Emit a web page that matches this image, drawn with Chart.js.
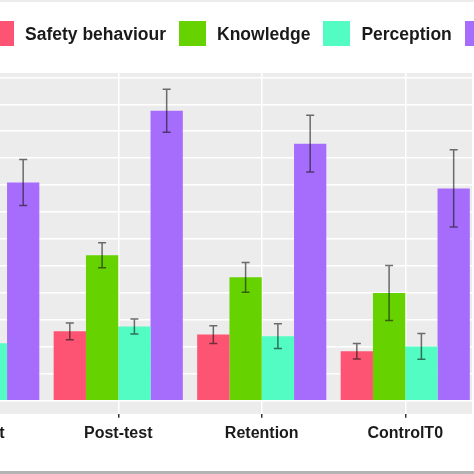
<!DOCTYPE html>
<html>
<head>
<meta charset="utf-8">
<script src="https://cdn.jsdelivr.net/npm/chart.js@4/dist/chart.umd.min.js"></script>
<style>
  html, body { margin: 0; padding: 0; width: 474px; height: 474px; overflow: hidden; background: #fff; }
  #frame { position: absolute; left: 0; top: 0; width: 472px; height: 474px; overflow: hidden; }
  #plot { position: absolute; left: -97px; top: 0; width: 574px; height: 474px; }
  #legend { position: absolute; left: -13px; top: 19px; display: flex; align-items: center; white-space: nowrap;
            font-family: 'Liberation Sans', Arial, sans-serif; font-weight: bold; font-size: 17.5px; color: #1a1a1a; }
  #legend .box { width: 27px; height: 25px; margin-right: 11px; flex: none; }
  #legend .lbl { margin-right: 13px; line-height: 25px; padding-top: 3px; }
  #topline { position: absolute; left: 0; top: 0; width: 474px; height: 2px; background: #ececec; }
  #bottomline { position: absolute; left: 0; top: 471px; width: 474px; height: 3px; background: #b4b4b4; }
</style>
</head>
<body>
<div id="frame"><div id="plot"><canvas id="chart"></canvas></div></div>
<div id="legend"></div>
<div id="topline"></div>
<div id="bottomline"></div>
<script>
// dados (médias e meia-largura das barras de erro)
const categories = ['Pre-test', 'Post-test', 'Retention', 'ControlT0'];
const seriesNames = ['Safety behaviour', 'Knowledge', 'Perception', 'Attitude'];
const seriesColors = ['#fd5473', '#66d300', '#52fcc3', '#a66dfd'];

const safetyMeans = [1.0, 1.29, 1.23, 0.92];
const safetyErr = [0.15, 0.155, 0.165, 0.145];
const knowledgeMeans = [2.0, 2.70, 2.29, 2.0];
const knowledgeErr = [0.25, 0.23, 0.275, 0.51];
const perceptionMeans = [1.07, 1.38, 1.20, 1.01];
const perceptionErr = [0.15, 0.14, 0.23, 0.24];
const attitudeMeans = [4.05, 5.38, 4.77, 3.94];
const attitudeErr = [0.425, 0.40, 0.525, 0.715];

const allMeans = [safetyMeans, knowledgeMeans, perceptionMeans, attitudeMeans];
const allErr = [safetyErr, knowledgeErr, perceptionErr, attitudeErr];

// legenda em HTML
const legend = document.getElementById('legend');
seriesNames.forEach((name, i) => {
  const box = document.createElement('span');
  box.className = 'box';
  box.style.background = seriesColors[i];
  const lbl = document.createElement('span');
  lbl.className = 'lbl';
  lbl.textContent = name;
  legend.appendChild(box);
  legend.appendChild(lbl);
});

// fundo cinza do painel
const panelBackground = {
  id: 'panelBackground',
  beforeDraw(chart) {
    const a = chart.chartArea;
    chart.ctx.save();
    chart.ctx.fillStyle = '#ececec';
    chart.ctx.fillRect(a.left, a.top, a.right - a.left, a.bottom - a.top);
    chart.ctx.restore();
  }
};

// barras de erro
const errorBars = {
  id: 'errorBars',
  afterDatasetsDraw(chart) {
    const ctx = chart.ctx;
    const y = chart.scales.y;
    ctx.save();
    ctx.strokeStyle = 'rgba(20,20,20,0.6)';
    ctx.lineWidth = 1.5;
    chart.data.datasets.forEach((ds, i) => {
      chart.getDatasetMeta(i).data.forEach((bar, j) => {
        const top = y.getPixelForValue(ds.data[j] + ds.errors[j]);
        const bottom = y.getPixelForValue(ds.data[j] - ds.errors[j]);
        ctx.beginPath();
        ctx.moveTo(bar.x, top); ctx.lineTo(bar.x, bottom);
        ctx.moveTo(bar.x - 4, top); ctx.lineTo(bar.x + 4, top);
        ctx.moveTo(bar.x - 4, bottom); ctx.lineTo(bar.x + 4, bottom);
        ctx.stroke();
      });
    });
    ctx.restore();
  }
};

new Chart(document.getElementById('chart'), {
  type: 'bar',
  data: {
    labels: categories,
    datasets: seriesNames.map((name, i) => ({
      label: name,
      data: allMeans[i],
      errors: allErr[i],
      backgroundColor: seriesColors[i],
      borderWidth: 0,
      categoryPercentage: 0.9,
      barPercentage: 1.0
    }))
  },
  options: {
    responsive: true,
    maintainAspectRatio: false,
    animation: false,
    layout: { padding: { top: 73, bottom: 25, left: 0, right: 0 } },
    plugins: { legend: { display: false }, tooltip: { enabled: false } },
    scales: {
      x: {
        offset: true,
        border: { display: false },
        grid: { offset: false, color: '#ffffff', lineWidth: 1.5, tickColor: '#333333', tickLength: 4 },
        ticks: { color: '#1a1a1a', padding: 6, font: { family: "'Liberation Sans', Arial, sans-serif", size: 16, weight: 'bold' } }
      },
      y: {
        min: -0.24,
        max: 6.08,
        border: { display: false },
        grid: { color: '#ffffff', lineWidth: 1.5, drawTicks: false },
        ticks: { display: false, stepSize: 0.5, includeBounds: false }
      }
    }
  },
  plugins: [panelBackground, errorBars]
});
</script>
</body>
</html>
